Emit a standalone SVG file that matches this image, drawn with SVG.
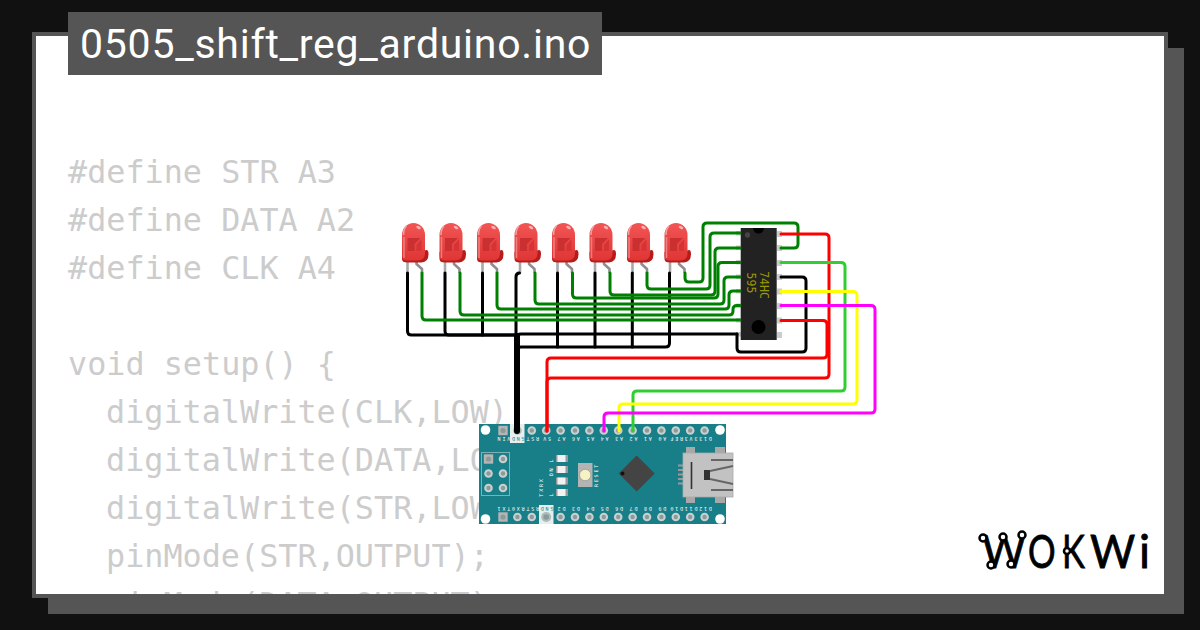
<svg xmlns="http://www.w3.org/2000/svg" xmlns:xlink="http://www.w3.org/1999/xlink" width="1200" height="630" viewBox="0 0 1200 630">
<style>
.code{font-family:"DejaVu Sans Mono","Liberation Mono",monospace;font-size:31.800px;fill:#ccc;white-space:pre}
.title{font-family:Roboto,"Liberation Sans",sans-serif;font-size:41px;letter-spacing:.75px;fill:#fff}
.w{fill:none;stroke-width:3;stroke-linecap:round;stroke-linejoin:round}
.k{stroke:#000}.g{stroke:#008000}.r{stroke:#f00}.l{stroke:#32cd32}.y{stroke:#ff0}.m{stroke:#f0f}
.lbl{font-family:"DejaVu Sans Mono","Liberation Mono",monospace;font-size:5px;fill:#fff;text-anchor:middle;letter-spacing:1.800px}
.pl{fill:#c8d0d0}.ph{fill:#8d9a9b}
.ic{font-family:"DejaVu Sans Mono","Liberation Mono",monospace;font-size:11.500px;fill:#9a9a00;text-anchor:middle}
.logo{font-family:Lato,"Liberation Sans",sans-serif;font-size:46px;fill:#000;stroke:#000;stroke-width:.8px}
</style>
<defs>
<clipPath id="card"><rect x="36" y="36" width="1128" height="558"/></clipPath>
<linearGradient id="lb" x1="0" y1="0" x2="0" y2="1"><stop offset="0" stop-color="#f25555"/><stop offset="1" stop-color="#e03535"/></linearGradient>
<g id="led">
<path d="M-6,36V50" stroke="#a8a8a8" stroke-width="2.600" fill="none"/>
<path d="M3,36V41L8.500,46V50" stroke="#8e8e8e" stroke-width="2.600" fill="none" stroke-linejoin="round"/>
<path d="M-11.500,29H9Q15,24 15,31Q15,39 8,39.500H-6Q-11.500,39.500-11.500,36Z" fill="#b71c1c"/>
<path d="M-11.500,12A11.500,12 0 0 1 11.500,12V30Q11.500,37.500 4,37.500H-6Q-11.500,37.500-11.500,33Z" fill="url(#lb)"/>
<path d="M-6,15H7L1,21V28H-6Z" fill="#cb3030"/>
<path d="M3,22L8,16V28H3Z" fill="#d63434"/>
<path d="M-10,12Q-10,6-7,3" stroke="#f7a0a0" stroke-width="1.500" fill="none"/>
<path d="M-9.500,14V35" stroke="#f08080" stroke-width="1.500" fill="none"/>
<ellipse cx="5" cy="4.500" rx="2.500" ry="1.300" fill="#f9b0b0" transform="rotate(30 5 4.500)"/>
</g>
<g id="pin"><circle r="4.300" class="pl"/><circle r="2.200" class="ph"/></g>
<g id="spin"><rect x="-4.700" y="-4.700" width="9.400" height="9.400" fill="#b5b5b5"/><circle r="2.600" class="ph"/></g>
<g id="bled"><rect x="-6" y="-3.500" width="12" height="7" fill="#9a9a9a"/><rect x="-4.500" y="-3.500" width="8" height="7" fill="#f2f2f2"/></g>
</defs>

<rect width="1200" height="630" fill="#111"/>
<rect x="48" y="48" width="1136" height="566" fill="#555"/>
<rect x="34" y="34" width="1132" height="562" fill="#fff" stroke="#555" stroke-width="4"/>

<g id="code" clip-path="url(#card)">
<text class="code" x="68" y="183">#define STR A3</text>
<text class="code" x="68" y="231">#define DATA A2</text>
<text class="code" x="68" y="279">#define CLK A4</text>
<text class="code" x="68" y="375">void setup() {</text>
<text class="code" x="106" y="423">digitalWrite(CLK,LOW)</text>
<text class="code" x="106" y="471">digitalWrite(DATA,LOW);</text>
<text class="code" x="106" y="519">digitalWrite(STR,LOW);</text>
<text class="code" x="106" y="567">pinMode(STR,OUTPUT);</text>
<text class="code" x="106" y="615">pinMode(DATA,OUTPUT);</text>
</g>

<g id="title">
<rect x="68" y="12" width="534" height="63" fill="#555"/>
<text class="title" x="80" y="58">0505_shift_reg_arduino.ino</text>
</g>

<g id="led1"><use xlink:href="#led" href="#led" x="413.500" y="223"/></g>
<g id="led2"><use xlink:href="#led" href="#led" x="451" y="223"/></g>
<g id="led3"><use xlink:href="#led" href="#led" x="488.500" y="223"/></g>
<g id="led4"><use xlink:href="#led" href="#led" x="526" y="223"/></g>
<g id="led5"><use xlink:href="#led" href="#led" x="563.500" y="223"/></g>
<g id="led6"><use xlink:href="#led" href="#led" x="601" y="223"/></g>
<g id="led7"><use xlink:href="#led" href="#led" x="638.500" y="223"/></g>
<g id="led8"><use xlink:href="#led" href="#led" x="676" y="223"/></g>

<g id="ic74hc595">
<g fill="#ccc">
<rect x="736" y="231" width="5" height="4.500"/><rect x="736" y="245.500" width="5" height="4.500"/><rect x="736" y="260" width="5" height="4.500"/><rect x="736" y="274.500" width="5" height="4.500"/><rect x="736" y="289" width="5" height="4.500"/><rect x="736" y="303.500" width="5" height="4.500"/><rect x="736" y="318" width="5" height="4.500"/><rect x="736" y="332" width="5" height="4.500"/>
<rect x="777" y="231" width="5" height="6"/><rect x="777" y="245" width="5" height="6"/><rect x="777" y="260" width="5" height="6"/><rect x="777" y="274" width="5" height="6"/><rect x="777" y="288.500" width="5" height="6"/><rect x="777" y="303" width="5" height="6"/><rect x="777" y="317.500" width="5" height="6"/><rect x="777" y="332" width="5" height="6"/>
</g>
<rect x="740.700" y="228" width="36" height="112" fill="#222"/>
<path d="M753,228A5.500,5.500 0 0 0 764,228Z" fill="#000"/>
<circle cx="758.500" cy="327" r="7" fill="#000"/>
<circle cx="747.500" cy="235" r="2.700" fill="#444"/>
<text class="ic" transform="translate(760 285) rotate(90)">74HC</text>
<text class="ic" transform="translate(747 283) rotate(90)">595</text>
</g>

<g id="nano">
<rect x="479" y="424" width="247" height="100" fill="#187e88"/>
<rect x="510" y="424" width="14.500" height="19" fill="#e6eeee"/>
<rect x="539" y="505" width="14.500" height="19" fill="#e6eeee"/>
<g fill="#fff"><circle cx="485.500" cy="430" r="4.800"/><circle cx="485.500" cy="519" r="4.800"/><circle cx="720" cy="430" r="4.800"/><circle cx="720" cy="519" r="4.800"/></g>
<use xlink:href="#spin" href="#spin" x="503" y="430.500"/>
<circle cx="517.400" cy="430.500" r="4.300" fill="#aebbbb"/><circle cx="517.400" cy="430.500" r="2.500" fill="#6c8a8c"/>
<use xlink:href="#pin" href="#pin" x="531.800" y="430.500"/><use xlink:href="#pin" href="#pin" x="546.200" y="430.500"/><use xlink:href="#pin" href="#pin" x="560.600" y="430.500"/><use xlink:href="#pin" href="#pin" x="575" y="430.500"/><use xlink:href="#pin" href="#pin" x="589.400" y="430.500"/><use xlink:href="#pin" href="#pin" x="603.800" y="430.500"/><use xlink:href="#pin" href="#pin" x="618.200" y="430.500"/><use xlink:href="#pin" href="#pin" x="632.600" y="430.500"/><use xlink:href="#pin" href="#pin" x="647" y="430.500"/><use xlink:href="#pin" href="#pin" x="661.400" y="430.500"/><use xlink:href="#pin" href="#pin" x="675.800" y="430.500"/><use xlink:href="#pin" href="#pin" x="690.200" y="430.500"/><use xlink:href="#pin" href="#pin" x="704.600" y="430.500"/>
<use xlink:href="#spin" href="#spin" x="503" y="517"/>
<use xlink:href="#pin" href="#pin" x="517.400" y="517"/><use xlink:href="#pin" href="#pin" x="531.800" y="517"/>
<circle cx="546.200" cy="517" r="5" fill="#aebbbb"/><circle cx="546.200" cy="517" r="2.800" fill="#8d9a9b"/>
<use xlink:href="#pin" href="#pin" x="560.600" y="517"/><use xlink:href="#pin" href="#pin" x="575" y="517"/><use xlink:href="#pin" href="#pin" x="589.400" y="517"/><use xlink:href="#pin" href="#pin" x="603.800" y="517"/><use xlink:href="#pin" href="#pin" x="618.200" y="517"/><use xlink:href="#pin" href="#pin" x="632.600" y="517"/><use xlink:href="#pin" href="#pin" x="647" y="517"/><use xlink:href="#pin" href="#pin" x="661.400" y="517"/><use xlink:href="#pin" href="#pin" x="675.800" y="517"/><use xlink:href="#pin" href="#pin" x="690.200" y="517"/><use xlink:href="#pin" href="#pin" x="704.600" y="517"/>
<g>
<text class="lbl" transform="translate(503 437) rotate(180)">VIN</text>
<text class="lbl" transform="translate(517.400 437) rotate(180)" style="fill:#187e88">GND</text>
<text class="lbl" transform="translate(531.800 437) rotate(180)">RST</text>
<text class="lbl" transform="translate(546.200 437) rotate(180)">5V</text>
<text class="lbl" transform="translate(560.600 437) rotate(180)">A7</text>
<text class="lbl" transform="translate(575 437) rotate(180)">A6</text>
<text class="lbl" transform="translate(589.400 437) rotate(180)">A5</text>
<text class="lbl" transform="translate(603.800 437) rotate(180)">A4</text>
<text class="lbl" transform="translate(618.200 437) rotate(180)">A3</text>
<text class="lbl" transform="translate(632.600 437) rotate(180)">A2</text>
<text class="lbl" transform="translate(647 437) rotate(180)">A1</text>
<text class="lbl" transform="translate(661.400 437) rotate(180)">A0</text>
<text class="lbl" transform="translate(675.800 437) rotate(180)">REF</text>
<text class="lbl" transform="translate(690.200 437) rotate(180)">3V3</text>
<text class="lbl" transform="translate(704.600 437) rotate(180)">D13</text>
<text class="lbl" transform="translate(503 507) rotate(180)">TX1</text>
<text class="lbl" transform="translate(517.400 507) rotate(180)">RX0</text>
<text class="lbl" transform="translate(531.800 507) rotate(180)">RST</text>
<text class="lbl" transform="translate(546.200 507) rotate(180)" style="fill:#187e88">GND</text>
<text class="lbl" transform="translate(560.600 507) rotate(180)">D2</text>
<text class="lbl" transform="translate(575 507) rotate(180)">D3</text>
<text class="lbl" transform="translate(589.400 507) rotate(180)">D4</text>
<text class="lbl" transform="translate(603.800 507) rotate(180)">D5</text>
<text class="lbl" transform="translate(618.200 507) rotate(180)">D6</text>
<text class="lbl" transform="translate(632.600 507) rotate(180)">D7</text>
<text class="lbl" transform="translate(647 507) rotate(180)">D8</text>
<text class="lbl" transform="translate(661.400 507) rotate(180)">D9</text>
<text class="lbl" transform="translate(675.800 507) rotate(180)">D10</text>
<text class="lbl" transform="translate(690.200 507) rotate(180)">D11</text>
<text class="lbl" transform="translate(704.600 507) rotate(180)">D12</text>
<text class="lbl" transform="translate(543 487) rotate(-90)">TXRX</text>
<text class="lbl" transform="translate(553 471.500) rotate(-90)">ON</text>
<text class="lbl" transform="translate(553 460) rotate(-90)">L</text>
<text class="lbl" transform="translate(553 494) rotate(-90)">L</text>
<text class="lbl" transform="translate(598 475) rotate(-90)">RESET</text>
</g>
<rect x="481.500" y="452.500" width="28" height="43" fill="none" stroke="#7fb0b5" stroke-width="1"/>
<use xlink:href="#spin" href="#spin" x="488.500" y="459"/><use xlink:href="#pin" href="#pin" x="503" y="459"/>
<use xlink:href="#pin" href="#pin" x="488.500" y="473.500"/><use xlink:href="#pin" href="#pin" x="503" y="473.500"/>
<use xlink:href="#pin" href="#pin" x="488.500" y="488"/><use xlink:href="#pin" href="#pin" x="503" y="488"/>
<use xlink:href="#bled" href="#bled" x="562" y="458.500"/><use xlink:href="#bled" href="#bled" x="562" y="469.500"/><use xlink:href="#bled" href="#bled" x="562" y="481"/><use xlink:href="#bled" href="#bled" x="562" y="492.500"/>
<rect x="578" y="463" width="14.500" height="24" fill="#b4b4b4"/>
<circle cx="585.200" cy="475" r="5.700" fill="#f6f2c4" stroke="#888" stroke-width=".6"/>
<path d="M636.700,455.500L654.700,473.500L636.700,491.500L618.700,473.500Z" fill="#444"/>
<circle cx="622.500" cy="473.500" r="2" fill="#111"/>
<g fill="#a8a8a8"><rect x="686" y="447" width="9" height="7"/><rect x="715" y="447" width="10" height="7"/><rect x="686" y="496" width="9" height="7"/><rect x="715" y="496" width="10" height="7"/></g>
<g fill="#999"><rect x="678" y="464.500" width="5" height="2"/><rect x="678" y="469" width="5" height="2"/><rect x="678" y="473.500" width="5" height="2"/><rect x="678" y="478" width="5" height="2"/><rect x="678" y="482.500" width="5" height="2"/></g>
<rect x="683" y="453" width="50" height="44" fill="#c2c2c2" stroke="#aaa" stroke-width=".8"/>
<rect x="690.700" y="462" width="1.600" height="27" fill="#333"/>
<path d="M704,470H710V480H704Z" fill="#333"/>
<path d="M710,471L733,466M710,479L733,484M711,460H733M711,490H733" stroke="#666" stroke-width="2" fill="none"/>
</g>

<g id="connectors">
<path class="w k" d="M407.500,273V331Q407.500,335 411.500,335H516"/>
<path class="w k" d="M445,273V331Q445,335 449,335H516"/>
<path class="w k" d="M482.500,273V335"/>
<path class="w k" d="M519.500,273Q516,273 516,277V338"/>
<path class="w k" d="M737,334H521Q517,334 517,338"/>
<path class="w k" d="M669.500,273V343Q669.500,347 665.500,347H521Q517,347 517,351"/>
<path class="w k" d="M517,336V431" style="stroke-width:6"/>
<path class="w k" d="M557.500,273V347M595,273V347M632.300,273V347"/>
<path class="w k" d="M737,334V348Q737,352 741,352H802Q806,352 806,348V281Q806,277 802,277H781"/>
<path class="w g" d="M422,273V316Q422,320 426,320H740"/>
<path class="w g" d="M460,273V311Q460,315 464,315H729Q733,315 733,311V309.500Q733,305.500 737,305.500H740"/>
<path class="w g" d="M497,273V305Q497,309 501,309H725Q729,309 729,305V295Q729,291 733,291H740"/>
<path class="w g" d="M535,273V300Q535,304 539,304H720Q724,304 724,300V281Q724,277 728,277H740"/>
<path class="w g" d="M572.500,273V294Q572.500,298 576.500,298H714Q718,298 718,294V266.500Q718,262.500 722,262.500H740"/>
<path class="w g" d="M610,273V291Q610,295 614,295H711Q715,295 715,291V252Q715,248 719,248H740"/>
<path class="w g" d="M647,273V285Q647,289 651,289H706Q710,289 710,285V237Q710,233 714,233H740"/>
<path class="w g" d="M685,273V278Q685,282 689,282H699Q703,282 703,278V227Q703,223 707,223H794Q798,223 798,227V244Q798,248 794,248H781"/>
<path class="w r" d="M781,234H825Q829,234 829,238V374Q829,378 825,378H551Q547,378 547,382V431"/>
<path class="w r" d="M781,320.500H823Q827,320.500 827,324.500V354Q827,358 823,358H551Q547,358 547,362V431"/>
<path class="w l" d="M781,262.500H841Q845,262.500 845,266.500V387Q845,391 841,391H637Q633,391 633,395V431"/>
<path class="w y" d="M781,291.500H853Q857,291.500 857,295.500V400Q857,404 853,404H623Q619,404 619,408V431"/>
<path class="w m" d="M781,305.500H871Q875,305.500 875,309.500V409Q875,413 871,413H608Q604,413 604,417V431"/>
</g>

<g id="logo">
<text class="logo" transform="translate(982 568) scale(.92 1)">W</text>
<text class="logo" transform="translate(1028 568) scale(.75 1)">O</text>
<text class="logo" transform="translate(1062 568) scale(.75 1)">K</text>
<text class="logo" transform="translate(1090 568) scale(.95 1)">W</text>
<text class="logo" x="1139" y="568">i</text>
<g fill="#fff" stroke="#000" stroke-width="2.500"><circle cx="983" cy="538" r="3.500"/><circle cx="1003" cy="537" r="3.500"/><circle cx="1022" cy="535" r="3.500"/><circle cx="991" cy="565" r="3.500"/><circle cx="1011" cy="564" r="3.500"/><circle cx="1067" cy="551" r="3"/></g>
</g>
</svg>
